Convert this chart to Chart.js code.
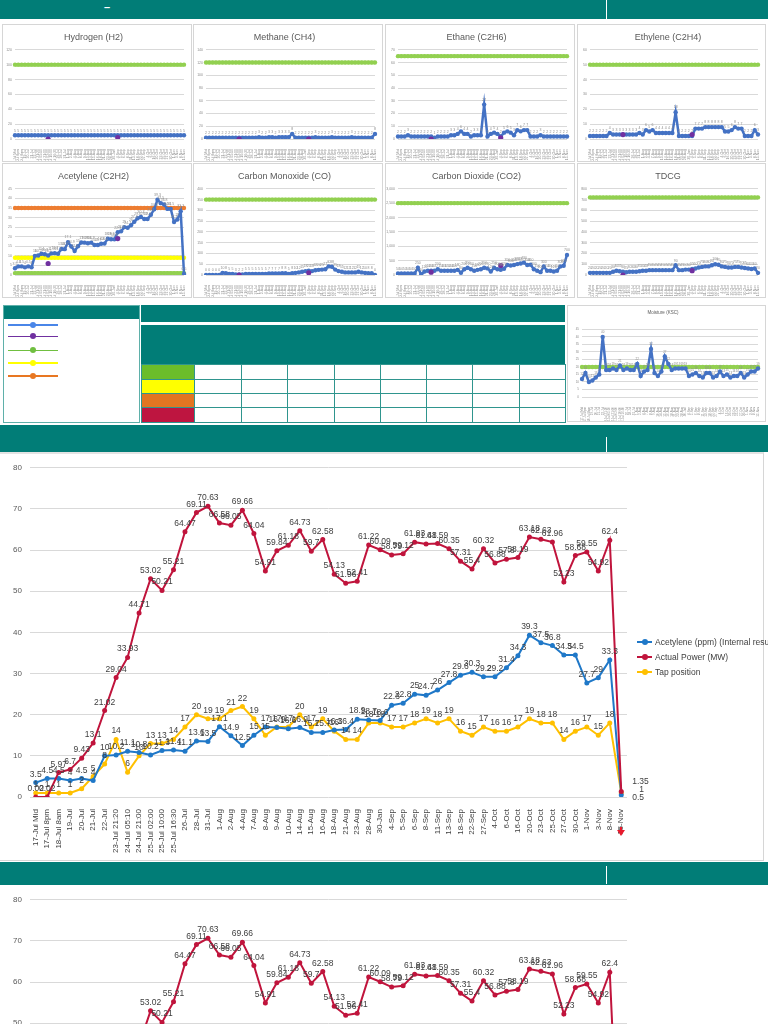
<!DOCTYPE html>
<html lang="en">
<head>
<meta charset="UTF-8">
<meta name="viewport" content="width=device-width, initial-scale=1.0">
<title>DGA trend</title>
<script src="https://cdn.jsdelivr.net/npm/chart.js"></script>
<style>
  html, body { margin:0; padding:0; background:#fff; width:768px; height:1024px; overflow:hidden;
    font-family:'Liberation Sans Narrow','Liberation Sans',Arial,sans-serif; }
  .abs { position:absolute; }
  .teal { position:absolute; background:#017d77; }
  .panel { position:absolute; background:#fff; border:1px solid #d6d6d6; box-sizing:border-box; overflow:hidden; }
  .panel canvas { position:absolute; left:0; top:0; }
  .cell { position:absolute; box-sizing:border-box; border:1px solid #2f958e; background:#fff; }
  .lg { position:absolute; height:12px; }
  .lg i { position:absolute; top:5px; height:2px; }
  .lg b { position:absolute; width:6px; height:6px; border-radius:50%; top:3px; }
  .lg span { position:absolute; white-space:nowrap; font-size:8.5px; color:#404040; line-height:12px; }
</style>
</head>
<body>
<!-- header -->
<div class="teal" style="left:0;top:0;width:768px;height:19px"></div>
<div class="abs" style="left:606px;top:0;width:1px;height:19px;background:#fff"></div>
<div class="abs" style="left:104px;top:1px;color:#fff;font-size:11px;font-weight:bold">–</div>

<!-- small gas charts -->
<div class="panel" style="left:2px;top:24px;width:190px;height:138px"><canvas id="cH2" width="188" height="136"></canvas></div>
<div class="panel" style="left:193px;top:24px;width:190px;height:138px"><canvas id="cCH4" width="188" height="136"></canvas></div>
<div class="panel" style="left:385px;top:24px;width:190px;height:138px"><canvas id="cC2H6" width="188" height="136"></canvas></div>
<div class="panel" style="left:577px;top:24px;width:189px;height:138px"><canvas id="cC2H4" width="187" height="136"></canvas></div>
<div class="panel" style="left:2px;top:163px;width:190px;height:135px"><canvas id="cC2H2" width="188" height="133"></canvas></div>
<div class="panel" style="left:193px;top:163px;width:190px;height:135px"><canvas id="cCO" width="188" height="133"></canvas></div>
<div class="panel" style="left:385px;top:163px;width:190px;height:135px"><canvas id="cCO2" width="188" height="133"></canvas></div>
<div class="panel" style="left:577px;top:163px;width:189px;height:135px"><canvas id="cTDCG" width="187" height="133"></canvas></div>

<!-- legend box -->
<div class="abs" style="left:3px;top:305px;width:137px;height:118px;border:1px solid #5fb0aa;box-sizing:border-box;background:#fff"></div>
<div class="teal" style="left:4px;top:306px;width:135px;height:13px"></div>
<div id="keyBox"></div>

<!-- limits table -->
<div class="teal" style="left:141px;top:305px;width:424px;height:17px"></div>
<div class="teal" style="left:141px;top:325px;width:424px;height:39px"></div>
<div id="tbl"></div>

<!-- moisture -->
<div class="panel" style="left:567px;top:305px;width:199px;height:117px"><canvas id="cH2O" width="197" height="115"></canvas></div>

<!-- main trend -->
<div class="teal" style="left:0;top:425px;width:768px;height:27px"></div>
<div class="abs" style="left:606px;top:437px;width:1px;height:15px;background:#fff"></div>
<div class="abs" style="left:0;top:452px;width:764px;height:409px;border-right:1px solid #d6d6d6;border-bottom:1px solid #d6d6d6;border-top:2px solid #e3e3e3;box-sizing:border-box"></div>
<canvas id="mainA" class="abs" style="left:0;top:455px" width="768" height="400"></canvas>
<div id="legA"></div>
<div class="abs" style="left:620px;top:827px;width:2px;height:4px;background:#e8192c"></div>
<div class="abs" style="left:617px;top:830px;width:0;height:0;border-left:4px solid transparent;border-right:4px solid transparent;border-top:6px solid #e8192c"></div>

<!-- repeated trend -->
<div class="teal" style="left:0;top:862px;width:768px;height:23px"></div>
<div class="abs" style="left:606px;top:866px;width:1px;height:18px;background:#fff"></div>
<canvas id="mainB" class="abs" style="left:0;top:887px" width="768" height="400"></canvas>

<script>
// ---- data ----
const dates = ['17-Jul Mid','17-Jul 8pm','18-Jul 8am','19-Jul','20-Jul','21-Jul','22-Jul','23-Jul 21:20','24-Jul 05:10','24-Jul 21:00',
  '25-Jul 02:00','25-Jul 10:00','25-Jul 16:30','26-Jul','28-Jul','31-Jul','1-Aug','2-Aug','4-Aug','7-Aug',
  '8-Aug','9-Aug','10-Aug','14-Aug','15-Aug','16-Aug','18-Aug','21-Aug','23-Aug','28-Aug',
  '30-Jan','4-Sep','5-Sep','6-Sep','8-Sep','11-Sep','13-Sep','18-Sep','22-Sep','27-Sep',
  '4-Oct','6-Oct','16-Oct','20-Oct','23-Oct','25-Oct','27-Oct','30-Oct','1-Nov','3-Nov','8-Nov','15-Nov'];

const seriesNames = ['Acetylene (ppm) (Internal result)', 'Actual Power (MW)', 'Tap position'];

const acetylene = [3.5,4.5,4.5,4,4.5,4,10,10.2,11.1,10.8, 10.2,11.3,11.4,11.1,13.6,13.5,17.1,14.9,12.5,15,
  17,16.9,16.6,16.9,15.7,15.7,16.3,16.4,18.9,18.7, 18.6,22.3,22.8,25,24.7,26,27.8,29.6,30.3,29.2,
  29.2,31.4,34.3,39.3,37.5,36.8,34.5,34.5,27.7,29, 33.3,0.5];
const power = [0.02,0.02,5.97,6.7,9.43,13.1,21.02,29.04,33.93,44.71, 53.02,50.21,55.21,64.47,69.11,70.63,66.58,66.05,69.66,64.04,
  54.91,59.84,61.18,64.73,59.7,62.58,54.13,51.96,52.41,61.22, 60.09,58.79,59.12,61.93,61.48,61.59,60.35,57.31,55.4,60.32,
  56.88,57.8,58.19,63.18,62.63,61.96,52.23,58.68,59.55,54.92, 62.4,1.35];
const tap = [1,1,1,1,2,5,8,14,6,10, 13,13,14,17,20,19,19,21,22,19, 15,17,17,20,17,19,16,14,14,18,
  18,17,17,18,19,18,19,16,15,17, 16,16,17,19,18,18,14,16,17,15, 18,1];

// small gas panels
const h2   = [5,5,5,5,5,5,5,5,5,5, 5,5,5,5,5,5,5,5,5,5, 5,5,5,5,5,5,5,5,5,5, 5,5,5,5,5,5,5,5,5,5, 5,5,5,5,5,5,5,5,5,5, 5,5];
const ch4  = [2,2,2,2,2,2,2,2,2,2, 2,2,2,2,2,2,3,2,2,3, 3,2,3,3,3,3,8,2,2,2, 2,2,2,3,2,2,2,2,3,2, 2,2,2,2,3,2,2,2,2,2, 2,8];
const c2h6 = [2,2,2,3,2,2,2,2,2,2, 2,1,2,2,2,2,3,3,4,6, 4,4,2,3,3,3,27,2,4,5, 4,2,5,6,5,3,7,6,7,7, 2,2,2,3,2,2,2,2,2,2, 2,2];
const c2h4 = [2,2,2,2,2,2,4,3,3,3, 3,3,3,3,3,4,3,6,5,6, 4,4,4,4,4,4,18,2,2,2, 2,2,7,7,7,8,8,8,8,8, 8,5,5,6,8,7,7,2,2,2, 6,3];
const co   = [0,0,0,0,0,10,8,5,5,3, 2,2,5,5,5,5,5,5,5,7, 7,7,7,8,8,5,8,10,12,15, 18,20,18,22,24,25,27,40,38,25, 18,15,12,12,12,12,15,12,10,8, 8,0];
const co2  = [50,50,50,50,50,50,250,20,120,150, 150,150,200,150,150,150,150,150,180,80, 200,250,200,150,180,200,250,230,120,250,
  200,180,220,350,330,350,380,400,430,350, 360,200,150,100,300,150,150,120,150,300, 320,700];
const tdcg = [20,20,20,20,20,20,20,30,40,35, 30,25,30,30,30,35,40,40,45,45, 45,45,45,45,45,45,90,45,45,50,
  50,55,60,70,75,80,80,90,100,95, 80,75,70,70,75,75,70,65,60,55, 60,20];
const moisture = [12,16,10,11,13,15,40,18,18,19, 18,21,18,19,18,18,22,14,17,18, 32,16,14,17,27,22,18,19,19,19,
  19,14,15,16,14,13,16,16,13,14, 17,14,15,13,14,14,16,13,15,17, 17,19];

// earlier samples (purple) at these positions
const prevIdx  = [10, 31];
const h2Prev   = [0, 2];
const ch4Prev  = [0, 0];
const c2h6Prev = [0, 1];
const c2h4Prev = [3, 3];
const c2h2Prev = [6, 19];
const coPrev   = [0, 10];
const co2Prev  = [100, 330];
const tdcgPrev = [0, 40];

// limit lines
const h2Limit = 100, ch4Limit = 120, c2h6Limit = 65, c2h4Limit = 50;
const c2h2Limits = [1, 9, 35];
const coLimit = 350, co2Limit = 2500, tdcgLimit = 720, moistureLimit = 20;

const tableColors = ['#6bbd2a', '#ffff00', '#e27522', '#be1540'];

// ---- style ----
const F = "'Liberation Sans Narrow','Liberation Sans',Arial,sans-serif";
Chart.defaults.font.family = F;
const BLUE = '#1f78c8', RED = '#c0143c', GOLD = '#ffc000';
const SBLUE = '#4472c4', PURPLE = '#7030a0', GREEN = '#92d050', YELLOW = '#ffff00', ORANGE = '#ed7d31';

const valueLabels = {
  id: 'valueLabels',
  afterDatasetsDraw(chart, args, opts) {
    if (!opts.size) return;
    const ctx = chart.ctx;
    ctx.save();
    ctx.font = opts.size + 'px ' + F;
    ctx.fillStyle = opts.color;
    chart.data.datasets.forEach((ds, di) => {
      if (!ds.showValues) return;
      const meta = chart.getDatasetMeta(di);
      const n = ds.data.length;
      meta.data.forEach((pt, i) => {
        const v = ds.data[i];
        if (v == null) return;
        if (opts.lastRight && i === n - 1) {
          ctx.textAlign = 'left';
          ctx.textBaseline = 'middle';
          ctx.fillText(String(v), pt.x + ds.lastDx, pt.y + ds.lastDy);
        } else {
          ctx.textAlign = 'center';
          ctx.textBaseline = 'bottom';
          ctx.fillText(String(v), pt.x, pt.y - opts.gap);
        }
      });
    });
    ctx.restore();
  }
};

function flat(v) { return dates.map(() => v); }
function sparse(vals) {
  const d = dates.map(() => null);
  prevIdx.forEach((k, j) => { d[k] = vals[j]; });
  return d;
}

function smallChart(id, title, series, prev, limits, yMax, step, geo) {
  const g = Object.assign({ titleSize: 9, titleTop: 6, titleBottom: 7, yw: 12, xh: 22, tick: 3.5 }, geo || {});
  const datasets = [{
    data: series, borderColor: SBLUE, backgroundColor: SBLUE, borderWidth: 2.5,
    pointRadius: 2.2, pointBorderWidth: 0, showValues: true, order: 1
  }];
  if (prev) datasets.push({
    data: sparse(prev), showLine: false, pointRadius: 2.6, pointBorderWidth: 0,
    backgroundColor: PURPLE, borderColor: PURPLE, order: 0
  });
  limits.forEach(l => datasets.push({
    data: flat(l[0]), borderColor: l[1], backgroundColor: l[1], borderWidth: 3.5,
    pointRadius: 2.2, pointBorderWidth: 0, order: 2
  }));
  return new Chart(document.getElementById(id), {
    type: 'line',
    data: { labels: dates, datasets: datasets },
    plugins: [valueLabels],
    options: {
      responsive: false, animation: false,
      layout: { padding: { left: 0, right: 7, top: 1, bottom: 0 } },
      plugins: {
        legend: { display: false }, tooltip: { enabled: false },
        title: { display: true, text: title, color: '#595959', font: { size: g.titleSize, weight: 'normal' },
          padding: { top: g.titleTop, bottom: g.titleBottom } },
        valueLabels: { size: g.tick, color: '#8c8c8c', gap: 3 }
      },
      scales: {
        x: { grid: { display: false }, border: { display: false },
          ticks: { autoSkip: false, minRotation: 90, maxRotation: 90, font: { size: g.tick }, color: '#8c8c8c', padding: 2 },
          afterFit(s) { s.height = g.xh; } },
        y: { min: 0, max: yMax, grid: { color: '#d9d9d9', drawTicks: false }, border: { display: false },
          ticks: { stepSize: step, font: { size: g.tick }, color: '#8c8c8c', padding: 3 },
          afterFit(s) { s.width = g.yw; } }
      }
    }
  });
}

smallChart('cH2', 'Hydrogen (H2)', h2, h2Prev, [[h2Limit, GREEN]], 120, 20);
smallChart('cCH4', 'Methane (CH4)', ch4, ch4Prev, [[ch4Limit, GREEN]], 140, 20);
smallChart('cC2H6', 'Ethane (C2H6)', c2h6, c2h6Prev, [[c2h6Limit, GREEN]], 70, 10);
smallChart('cC2H4', 'Ethylene (C2H4)', c2h4, c2h4Prev, [[c2h4Limit, GREEN]], 60, 10);
smallChart('cC2H2', 'Acetylene (C2H2)', acetylene, c2h2Prev,
  [[c2h2Limits[0], GREEN], [c2h2Limits[1], YELLOW], [c2h2Limits[2], ORANGE]], 45, 5);
smallChart('cCO', 'Carbon Monoxide (CO)', co, coPrev, [[coLimit, GREEN]], 400, 50);
smallChart('cCO2', 'Carbon Dioxide (CO2)', co2, co2Prev, [[co2Limit, GREEN]], 3000, 500);
smallChart('cTDCG', 'TDCG', tdcg, tdcgPrev, [[tdcgLimit, GREEN]], 800, 100);
smallChart('cH2O', 'Moisture (KSC)', moisture, null, [[moistureLimit, GREEN]], 45, 5,
  { titleSize: 4.5, titleTop: 3, titleBottom: 14, yw: 14, xh: 24, tick: 3 });

// ---- main trend chart ----
function mainChart(id) {
  return new Chart(document.getElementById(id), {
    type: 'line',
    data: {
      labels: dates,
      datasets: [
        { label: seriesNames[1], data: power, borderColor: RED, backgroundColor: RED, borderWidth: 2,
          pointRadius: 2.5, pointBorderWidth: 0, order: 0, showValues: true, lastDx: 11, lastDy: -10 },
        { label: seriesNames[0], data: acetylene, borderColor: BLUE, backgroundColor: BLUE, borderWidth: 2,
          pointRadius: 2.5, pointBorderWidth: 0, order: 1, showValues: true, lastDx: 11, lastDy: 3 },
        { label: seriesNames[2], data: tap, borderColor: GOLD, backgroundColor: GOLD, borderWidth: 2,
          pointRadius: 2.5, pointBorderWidth: 0, order: 2, showValues: true, lastDx: 18, lastDy: -3 }
      ]
    },
    plugins: [valueLabels],
    options: {
      responsive: false, animation: false,
      layout: { padding: { left: 0, right: 141, top: 12, bottom: 0 } },
      plugins: {
        legend: { display: false }, tooltip: { enabled: false },
        valueLabels: { size: 8.5, color: '#404040', gap: 4, lastRight: true }
      },
      scales: {
        x: { offset: true, grid: { display: false }, border: { display: false },
          ticks: { autoSkip: false, minRotation: 90, maxRotation: 90, font: { size: 8 }, color: '#404040', padding: 4 },
          afterFit(s) { s.height = 58; } },
        y: { min: 0, max: 80, grid: { color: '#d9d9d9', drawTicks: false }, border: { display: false },
          ticks: { stepSize: 10, font: { size: 8 }, color: '#595959', padding: 8 },
          afterFit(s) { s.width = 30; } }
      }
    }
  });
}
mainChart('mainA');
mainChart('mainB');

// ---- html legend for main chart ----
const legColors = [BLUE, RED, GOLD];
let lh = '';
seriesNames.forEach((name, i) => {
  lh += '<div class="lg" style="left:637px;top:' + (636 + i * 15) + 'px;width:131px">' +
        '<i style="left:0;width:15px;background:' + legColors[i] + '"></i>' +
        '<b style="left:5px;background:' + legColors[i] + '"></b>' +
        '<span style="left:18px">' + name + '</span></div>';
});
document.getElementById('legA').innerHTML = lh;

// ---- key box ----
const keyColors = ['#4a86e8', PURPLE, '#70bf40', YELLOW, '#e87722'];
const keyY = [325, 336, 350, 363, 376];
let kh = '';
keyColors.forEach((c, i) => {
  const w = (i === 1 || i === 2) ? 1 : 2;
  kh += '<div class="abs" style="left:8px;top:' + (keyY[i] - w / 2) + 'px;width:50px;height:' + w + 'px;background:' + c + '"></div>' +
        '<div class="abs" style="left:30px;top:' + (keyY[i] - 3) + 'px;width:6px;height:6px;border-radius:50%;background:' + c + '"></div>';
});
document.getElementById('keyBox').innerHTML = kh;

// ---- table grid ----
const colX = [141, 194, 241, 287, 334, 380, 426, 472, 519, 565];
const rowY = [364, 379, 393, 407, 422];
let th = '';
tableColors.forEach((c, r) => {
  for (let k = 0; k < colX.length - 1; k++) {
    th += '<div class="cell" style="left:' + colX[k] + 'px;top:' + rowY[r] + 'px;width:' + (colX[k + 1] - colX[k] + 1) +
          'px;height:' + (rowY[r + 1] - rowY[r] + 1) + 'px;' + (k === 0 ? 'background:' + c + ';' : '') + '"></div>';
  }
});
document.getElementById('tbl').innerHTML = th;
</script>
</body>
</html>
